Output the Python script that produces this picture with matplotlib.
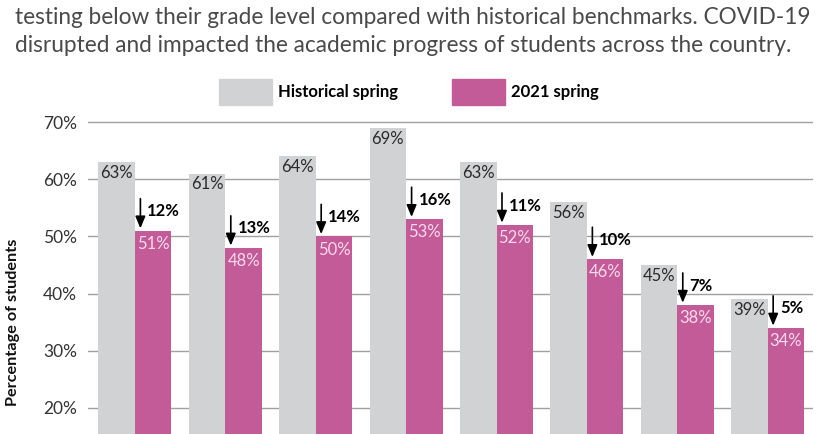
import numpy as np
import matplotlib.pyplot as plt
from matplotlib.patches import Patch

plt.rcParams['font.family'] = ['Lato', 'DejaVu Sans']

# Данные
historical = [63, 61, 64, 69, 63, 56, 45, 39]
spring_2021 = [51, 48, 50, 53, 52, 46, 38, 34]
drops = [12, 13, 14, 16, 11, 10, 7, 5]
y_ticks = [20, 30, 40, 50, 60, 70]
legend_labels = ['Historical spring', '2021 spring']
text_lines = [
    'testing below their grade level compared with historical benchmarks. COVID-19',
    'disrupted and impacted the academic progress of students across the country.',
]

GRAY = '#d1d2d4'
PINK = '#c25b98'

fig = plt.figure(figsize=(8.26, 4.34), dpi=100)
ax = fig.add_axes([0.1065, 0.0, 0.8777, 0.732])

x = np.arange(len(historical))
w = 0.404

ax.bar(x - w / 2, historical, w, color=GRAY, zorder=2)
ax.bar(x + w / 2, spring_2021, w, color=PINK, zorder=2)

for xi, h, s, d in zip(x, historical, spring_2021, drops):
    ax.text(xi - w / 2, h - 1.9, f'{h}%', ha='center', va='center',
            fontsize=12, color='#2a2a2a', zorder=3)
    ax.text(xi + w / 2, s - 2.3, f'{s}%', ha='center', va='center',
            fontsize=12, color='#f9d9ec', zorder=3)
    ax.annotate('', xy=(xi + 0.06, s + 0.4), xytext=(xi + 0.06, s + 5.6),
                arrowprops=dict(arrowstyle='-|>,head_length=0.6,head_width=0.25',
                                mutation_scale=12, color='black', lw=1.2,
                                shrinkA=0, shrinkB=0), zorder=3)
    ax.text(xi + 0.135, s + 3.4, f'{d}%', ha='left', va='center',
            fontsize=12, fontweight='bold', color='black', zorder=3)

ax.set_xlim(-0.52, 7.5)
ax.set_ylim(15.45, 71)
ax.set_yticks(y_ticks)
ax.set_yticklabels([f'{t}%' for t in y_ticks], fontsize=12.5, color='#333333')
ax.set_xticks([])
ax.tick_params(axis='y', length=0, pad=8)
ax.yaxis.grid(True, color='#a0a0a0', lw=1)
ax.set_axisbelow(True)
for sp in ax.spines.values():
    sp.set_visible(False)

ax.set_ylabel('Percentage of students', fontsize=11.7, fontweight='bold', color='#111111')
ax.yaxis.set_label_coords(-0.094, 0.353)

handles = [Patch(color=GRAY), Patch(color=PINK)]
leg = fig.legend(handles, legend_labels, ncol=2, loc='center',
                 bbox_to_anchor=(0.495, 0.788), frameon=False,
                 handlelength=3.2, handleheight=2.05, handletextpad=0.35,
                 columnspacing=3.2, prop={'weight': 'bold', 'size': 12})

fig.text(15 / 826, 1 - 17 / 434, text_lines[0], ha='left', va='center',
         fontsize=16.3, color='#4a4a4a')
fig.text(15 / 826, 1 - 45 / 434, text_lines[1], ha='left', va='center',
         fontsize=16.3, color='#4a4a4a')

fig.savefig('out.png', dpi=100)
